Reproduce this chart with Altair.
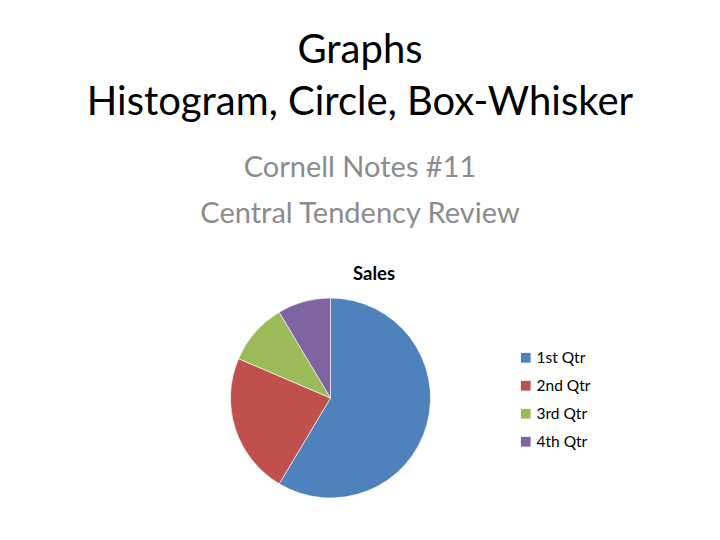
import altair as alt
import pandas as pd

quarters = ["1st Qtr", "2nd Qtr", "3rd Qtr", "4th Qtr"]
sales = [8.2, 3.2, 1.4, 1.2]
colors = ["#4F81BD", "#C0504D", "#9BBB59", "#8064A2"]

title_lines = ["Graphs", "Histogram, Circle, Box-Whisker"]
subtitle_lines = ["Cornell Notes #11", "Central Tendency Review"]
chart_title = "Sales"

df = pd.DataFrame({"quarter": quarters, "sales": sales, "order": list(range(len(quarters)))})

FONT = "Lato"
OX, OY = 8, 8  # page margin offset

one = alt.Data(values=[{}])

def txt(s, x, y, size, color="#000000", weight="normal"):
    return alt.Chart(one).mark_text(
        text=s, font=FONT, fontSize=size, color=color, fontWeight=weight,
        align="center", baseline="alphabetic"
    ).encode(x=alt.value(x - OX), y=alt.value(y - OY))

t1 = txt(title_lines[0], 360, 63, 40)
t2 = txt(title_lines[1], 360, 115, 40)
s1 = txt(subtitle_lines[0], 360, 177, 29, color="#8C8C8C")
s2 = txt(subtitle_lines[1], 360, 223, 29, color="#8C8C8C")
ct = txt(chart_title, 374, 280, 18.5, weight="bold")

pie = alt.Chart(df).mark_arc(radius=100, stroke="#FFFFFF", strokeWidth=0.6).encode(
    theta=alt.Theta("sales:Q", stack=True),
    order=alt.Order("order:Q"),
    color=alt.Color(
        "quarter:N",
        scale=alt.Scale(domain=quarters, range=colors),
        sort=quarters,
        legend=alt.Legend(
            title=None, orient="none", legendX=518 - OX, legendY=350 - OY,
            symbolType="square", symbolSize=95, symbolStrokeWidth=0,
            labelFont=FONT, labelFontSize=15.5, labelColor="#000000",
            rowPadding=11, labelOffset=3, padding=0,
        ),
    ),
    x=alt.value(330.5 - OX),
    y=alt.value(398 - OY),
)

chart = alt.layer(t1, t2, s1, s2, ct, pie).properties(
    width=704, height=524, padding=0,
    autosize=alt.AutoSizeParams(type="none"),
    background="#FFFFFF",
).configure_view(stroke=None)

chart.save("out.html", embed_options={"renderer": "svg", "actions": False})
